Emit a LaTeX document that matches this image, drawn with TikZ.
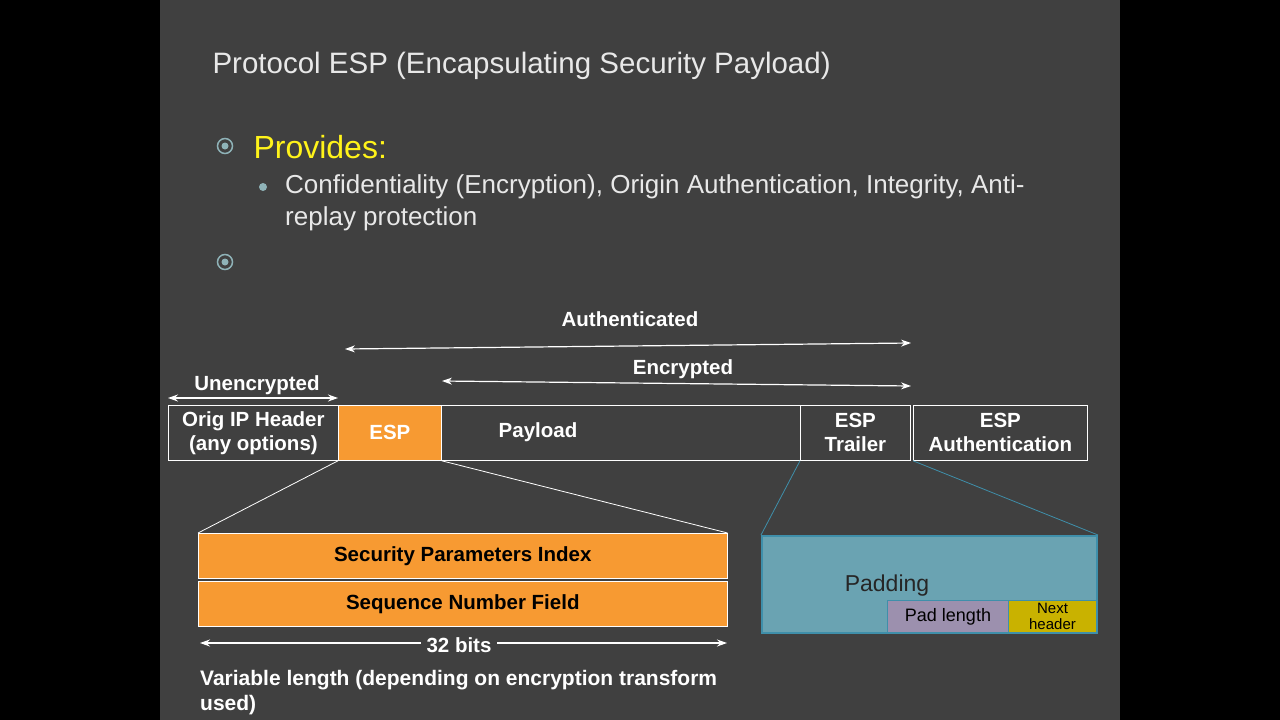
\documentclass[tikz,border=0pt]{standalone}
\usepackage{fontspec}
\setmainfont{Liberation Sans}
\usetikzlibrary{arrows.meta}
\definecolor{slide}{HTML}{404040}
\definecolor{org}{HTML}{F79A32}
\definecolor{pad}{HTML}{6AA3B2}
\definecolor{padb}{HTML}{3F8FAA}
\definecolor{pl}{HTML}{9C90AE}
\definecolor{nh}{HTML}{C9B200}
\definecolor{ttl}{HTML}{E8E8E8}
\definecolor{bul}{HTML}{8FB3B8}
\begin{document}
\begin{tikzpicture}[x=1pt,y=-1pt,
  box/.style={draw=white,line width=0.8pt,minimum height=55pt,inner sep=0pt,anchor=north west,text=white,font=\bfseries\fontsize{20.5}{24}\selectfont,align=center},
  lab/.style={text=white,font=\bfseries\fontsize{20.5}{24}\selectfont},
  arr/.style={draw=white,line width=1.2pt,{Stealth[length=10pt,width=7pt]}-{Stealth[length=10pt,width=7pt]}},
  fld/.style={draw=white,line width=0.6pt,fill=org,minimum width=529pt,minimum height=45pt,anchor=north west,inner sep=0pt,font=\bfseries\fontsize{20.5}{24}\selectfont},
  bulb/.style={circle,draw=bul,line width=1.5pt,minimum size=15pt,inner sep=0pt,path picture={\fill[bul] (path picture bounding box.center) circle (3.5pt);}}]
\useasboundingbox (0,0) rectangle (1280,720);
\fill[black] (0,0) rectangle (1280,720);
\fill[slide] (160,0) rectangle (1120,720);
\node[anchor=west,text=ttl,font=\fontsize{29.5}{32}\selectfont] (title) at (209,66) {Protocol ESP (Encapsulating Security Payload)};
\node[bulb] (b1) at (225,146) {};
\node[anchor=west,text=yellow!90!white,font=\fontsize{32}{34}\selectfont] (prov) at (250,147) {Provides:};
\node[circle,fill=bul,minimum size=8pt,inner sep=0pt] (b2) at (263,187) {};
\node[anchor=north west,text=ttl,font=\fontsize{26}{32}\selectfont,align=left,inner sep=0pt] (conf) at (285,174) {Confidentiality (Encryption), Origin Authentication, Integrity, Anti-\\replay protection};
\node[bulb] (b3) at (225,262) {};
% boxes
\node[box,minimum width=170pt] (ip) at (168,405) {Orig IP Header\\(any options)};
\node[box,minimum width=103pt,fill=org] (esp) at (338,405) {ESP};
\node[box,minimum width=359pt] (pay) at (441,405) {};
\node[lab] (payt) at (538,432) {Payload};
\node[box,minimum width=110pt] (tr) at (800,405) {ESP\\Trailer};
\node[box,minimum width=174pt] (au) at (913,405) {ESP\\Authentication};
% arrows
\node[lab] (authl) at (630,319) {Authenticated};
\coordinate (a1) at (345,349); \coordinate (a2) at (911,343);
\draw[arr] (a1) -- (a2);
\node[lab] (encl) at (683,369) {Encrypted};
\coordinate (e1) at (442,381); \coordinate (e2) at (911,386);
\draw[arr] (e1) -- (e2);
\node[lab] (unl) at (257,385) {Unencrypted};
\coordinate (u1) at (168,398); \coordinate (u2) at (338,398);
\draw[arr] (u1) -- (u2);
% fields
\node[fld] (spi) at (198,533) {Security Parameters Index};
\node[fld] (snf) at (198,581) {Sequence Number Field};
\draw[white,line width=0.8pt] (esp.south west) -- (spi.north west);
\draw[white,line width=0.8pt] (esp.south east) -- (spi.north east);
\coordinate (w1) at (200,643); \coordinate (w2) at (727,643);
\draw[arr] (w1) -- (w2);
\node[lab,fill=slide,inner sep=6pt] (bits) at (459,645) {32 bits};
\node[lab,anchor=north west,align=left,inner sep=0pt,font=\bfseries\fontsize{21}{25}\selectfont] (var) at (200,670) {Variable length (depending on encryption transform\\used)};
% padding
\node[draw=padb,line width=2pt,fill=pad,minimum width=335pt,minimum height=97pt,anchor=north west,inner sep=0pt] (padb) at (761,535) {};
\node[font=\fontsize{23}{26}\selectfont,text=black!85] (padt) at (887,586) {Padding};
\node[draw=padb,line width=1pt,fill=pl,minimum width=121pt,minimum height=32pt,anchor=north west,inner sep=0pt,font=\fontsize{18}{20}\selectfont] (pl) at (887,600) {Pad length};
\node[draw=padb,line width=1pt,fill=nh,minimum width=88pt,minimum height=32pt,anchor=north west,inner sep=0pt,align=center,font=\fontsize{15}{16}\selectfont] (nh) at (1008,600) {Next\\header};
\draw[padb,line width=0.8pt] (tr.south west) -- (padb.north west);
\draw[padb,line width=0.8pt] (au.south west) -- (padb.north east);
\end{tikzpicture}
\end{document}
